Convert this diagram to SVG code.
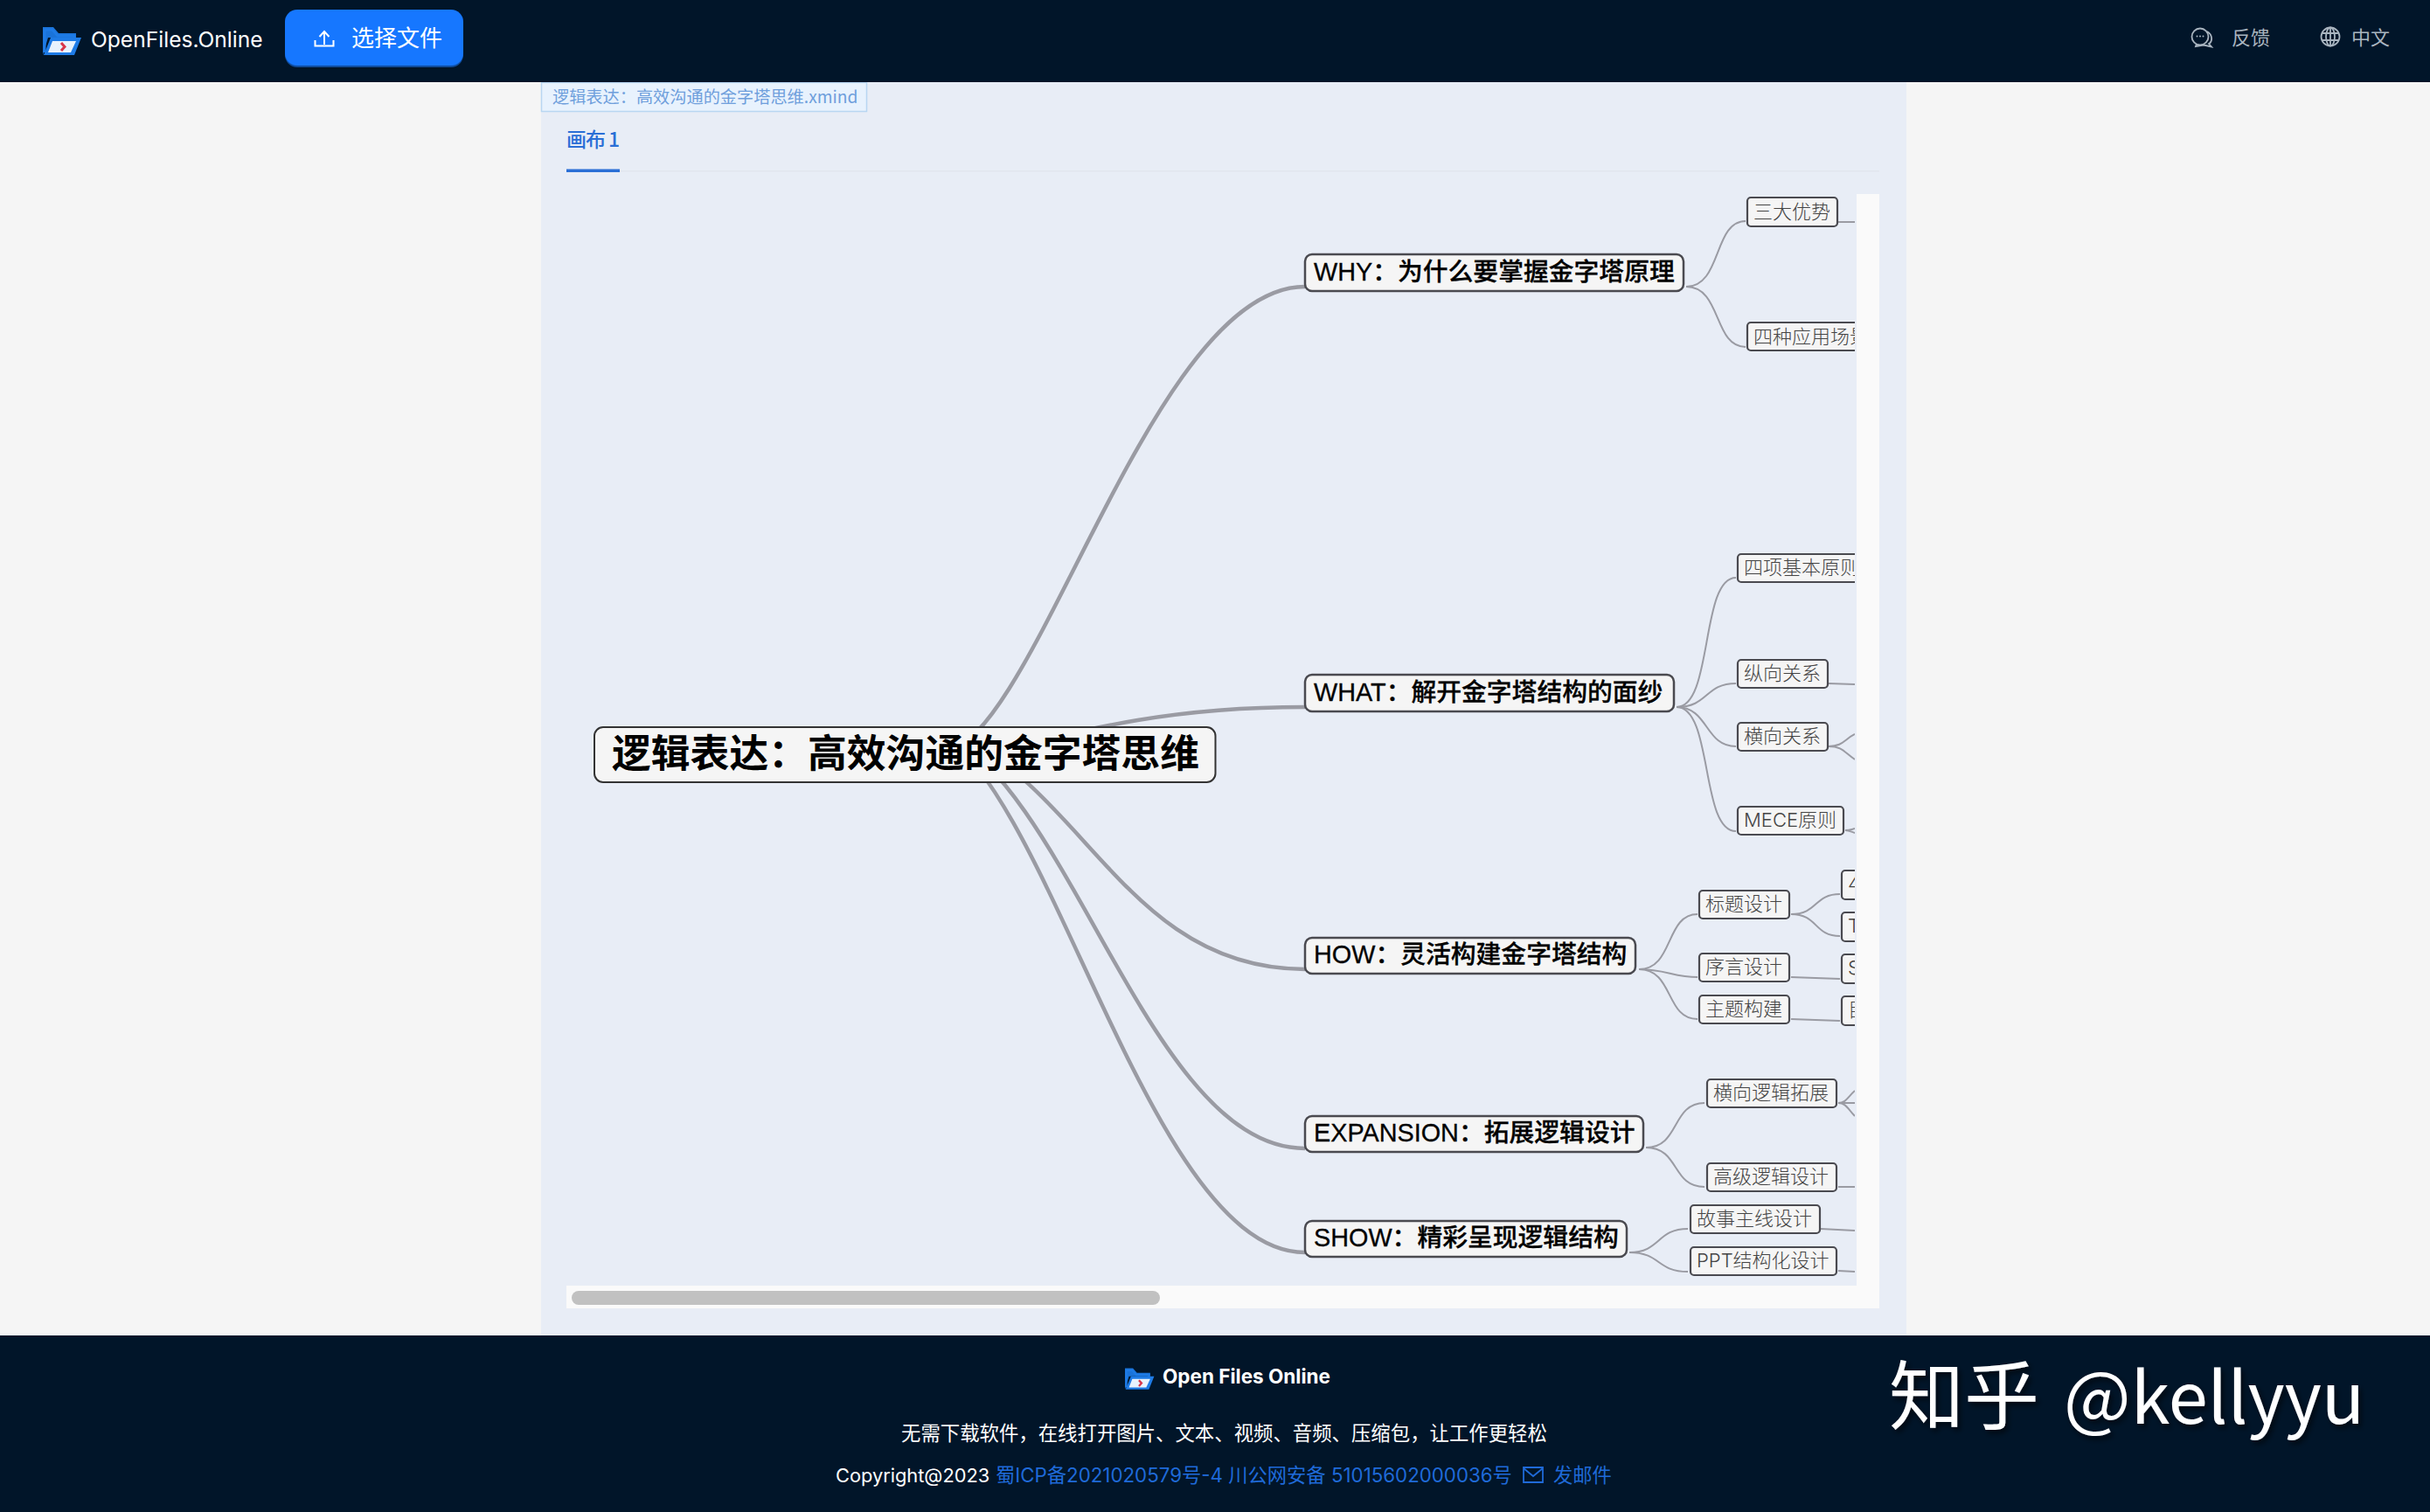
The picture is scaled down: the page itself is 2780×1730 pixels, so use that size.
<svg xmlns="http://www.w3.org/2000/svg" width="2780" height="1730" viewBox="0 0 2780 1730">
<style>
text{font-family:"Noto Sans CJK SC","Inter","Liberation Sans",sans-serif}
.lat{font-family:"Inter","Noto Sans CJK SC",sans-serif}
.n0 rect{fill:#f5f5f5;stroke:#333;stroke-width:2}
.n0 text{font-size:44.800px;font-weight:700;fill:#000}
.n1 rect{fill:#f5f5f5;stroke:#4a4a50;stroke-width:2.5}
.n1 text{font-size:28.800px;font-weight:500;fill:#000;stroke:#000;stroke-width:.3;font-family:"Liberation Sans","Noto Sans CJK SC",sans-serif}
.n2 rect{fill:#f5f5f5;stroke:#4a4a50;stroke-width:2.2}
.n2 text{font-size:22px;font-weight:300;fill:#444;font-family:"Inter","Noto Sans CJK SC",sans-serif}
.c1{fill:none;stroke:#9a9ba3;stroke-width:4.5}
.c2{fill:none;stroke:#9a9ba3;stroke-width:2}
.nav{font-size:22px;fill:#a9b4bf}
.foot{font-size:22.4px;fill:#fff}
.link{font-size:22.3px;fill:#1f6ad8}
.ic{fill:none;stroke:#a9b4bf;stroke-width:1.8}
</style>
<defs>
<clipPath id="view"><rect x="648" y="222" width="1474" height="1249"/></clipPath>
<filter id="sh" x="-10%" y="-10%" width="120%" height="120%"><feDropShadow dx="3" dy="4" stdDeviation="3" flood-color="#000" flood-opacity="0.6"/></filter>
<g id="folder">
<path d="M0 34V2H12L18 9H38V14H6L0 34Z" fill="#1a73d9"/>
<path d="M2 31V5H11L17 12H36V15" fill="none" stroke="#1e7be6" stroke-width="3"/>
<path d="M9 14H44L36 34H1Z" fill="#1e7be6"/>
<path d="M11 18H38L32 31H6Z" fill="#e8f2fd"/>
<path d="M21 20L25 24.500L21 29" fill="none" stroke="#d8364a" stroke-width="3"/>
</g>
</defs>
<rect id="page" width="2780" height="1730" fill="#f5f5f5"/>
<g id="panel">
<rect x="619" y="94" width="1562" height="1434" fill="#e8edf6"/>
<rect x="619.500" y="94.500" width="372" height="33" fill="#e8f2fd" stroke="#b8d6f2" stroke-width="1.500"/>
<text x="632" y="118" font-size="19.200" fill="#6f9fdc">逻辑表达：高效沟通的金字塔思维.xmind</text>
<text x="648" y="168" font-size="23" fill="#2a6fd6" font-weight="500" textLength="61">画布 1</text>
<rect x="648" y="195" width="1502" height="1.500" fill="#e2e6ee"/>
<rect x="648" y="193.500" width="61" height="3.500" fill="#2a6fd6"/>
<path d="M2124 222H2150V1497H648V1471H2124Z" fill="#fafafa"/>
<rect x="654" y="1477" width="673" height="16" rx="8" fill="#c1c1c1"/>
</g>
<g id="connectors" clip-path="url(#view)">
<path class="c1" d="M1085 860C1190 830 1320 328 1493 328"/>
<path class="c1" d="M1100 870C1240 835 1330 809 1493 809"/>
<path class="c1" d="M1090 840C1240 900 1290 1109 1493 1109"/>
<path class="c1" d="M1085 840C1230 920 1320 1314 1493 1314"/>
<path class="c1" d="M1080 840C1210 930 1320 1433 1493 1433"/>
<path class="c2" d="M1929 328C1970 328 1960 253 1997 253"/>
<path class="c2" d="M1929 328C1970 328 1960 397 1997 397"/>
<path class="c2" d="M2102 254L2122 254"/>
<path class="c2" d="M1918 809C1960 809 1945 661 1986 661"/>
<path class="c2" d="M1918 809C1955 809 1950 782 1986 782"/>
<path class="c2" d="M1918 809C1955 809 1950 854 1986 854"/>
<path class="c2" d="M1918 809C1960 809 1945 951 1986 951"/>
<path class="c2" d="M2092 782L2122 783"/>
<path class="c2" d="M2092 854C2108 854 2110 846 2122 840"/>
<path class="c2" d="M2092 854C2108 854 2110 861 2122 869"/>
<path class="c2" d="M2111 950C2116 950 2118 949 2122 948"/>
<path class="c2" d="M2111 950C2116 950 2118 952 2122 953"/>
<path class="c2" d="M1875 1109C1915 1109 1905 1046 1942 1046"/>
<path class="c2" d="M1875 1109C1905 1109 1915 1118 1942 1118"/>
<path class="c2" d="M1875 1109C1915 1109 1905 1166 1942 1166"/>
<path class="c2" d="M2049 1046C2080 1046 2075 1023 2105 1023"/>
<path class="c2" d="M2049 1046C2080 1046 2075 1071 2105 1071"/>
<path class="c2" d="M2049 1118L2105 1120"/>
<path class="c2" d="M2049 1166L2105 1168"/>
<path class="c2" d="M1883 1313C1922 1313 1912 1262 1950 1262"/>
<path class="c2" d="M1883 1313C1922 1313 1912 1358 1950 1358"/>
<path class="c2" d="M2103 1262C2112 1262 2114 1255 2122 1248"/>
<path class="c2" d="M2103 1262L2122 1262"/>
<path class="c2" d="M2103 1262C2112 1262 2114 1269 2122 1277"/>
<path class="c2" d="M2103 1358L2122 1358"/>
<path class="c2" d="M1864 1433C1900 1433 1895 1406 1931 1406"/>
<path class="c2" d="M1864 1433C1900 1433 1895 1455 1931 1455"/>
<path class="c2" d="M2083 1406L2122 1408"/>
<path class="c2" d="M2103 1454L2122 1455"/>
</g>
<g id="topics" clip-path="url(#view)">
<g id="root" class="n0"><rect x="680" y="832" width="710.500" height="63" rx="10"/><text x="700" y="878">逻辑表达：高效沟通的金字塔思维</text></g>
<g id="why" class="n1"><rect x="1493" y="291" width="433" height="42" rx="8"/><text x="1503" y="321">WHY：为什么要掌握金字塔原理</text></g>
<g id="what" class="n1"><rect x="1493" y="772" width="422" height="42" rx="8"/><text x="1503" y="802">WHAT：解开金字塔结构的面纱</text></g>
<g id="how" class="n1"><rect x="1493" y="1073" width="378" height="41" rx="8"/><text x="1503" y="1102">HOW：灵活构建金字塔结构</text></g>
<g id="expansion" class="n1"><rect x="1493" y="1277" width="387" height="41" rx="8"/><text x="1503" y="1306">EXPANSION：拓展逻辑设计</text></g>
<g id="show" class="n1"><rect x="1493" y="1397" width="368" height="41" rx="8"/><text x="1503" y="1426">SHOW：精彩呈现逻辑结构</text></g>
<g id="t1" class="n2"><rect x="1999" y="226" width="103" height="33" rx="4"/><text x="2006" y="249.500">三大优势</text></g>
<g id="t2" class="n2"><rect x="1999" y="369" width="160" height="32" rx="4"/><text x="2006" y="393">四种应用场景</text></g>
<g id="t3" class="n2"><rect x="1988" y="634" width="160" height="32" rx="4"/><text x="1995" y="657">四项基本原则</text></g>
<g id="t4" class="n2"><rect x="1988" y="755" width="103" height="32" rx="4"/><text x="1995" y="778">纵向关系</text></g>
<g id="t5" class="n2"><rect x="1988" y="827" width="103" height="32" rx="4"/><text x="1995" y="849.500">横向关系</text></g>
<g id="t6" class="n2"><rect x="1988" y="923" width="121" height="32" rx="4"/><text x="1995" y="945.500">MECE原则</text></g>
<g id="t7" class="n2"><rect x="1944" y="1019" width="103" height="32" rx="4"/><text x="1951" y="1042">标题设计</text></g>
<g id="t8" class="n2"><rect x="1944" y="1091" width="103" height="32" rx="4"/><text x="1951" y="1114">序言设计</text></g>
<g id="t9" class="n2"><rect x="1944" y="1139" width="103" height="32" rx="4"/><text x="1951" y="1162">主题构建</text></g>
<g id="t10" class="n2"><rect x="2107" y="996" width="60" height="33" rx="4"/><text x="2114" y="1019">4</text></g>
<g id="t11" class="n2"><rect x="2107" y="1044" width="60" height="33" rx="4"/><text x="2114" y="1067">T</text></g>
<g id="t12" class="n2"><rect x="2107" y="1092" width="60" height="33" rx="4"/><text x="2114" y="1115">S</text></g>
<g id="t13" class="n2"><rect x="2107" y="1140" width="60" height="33" rx="4"/><text x="2114" y="1163">目</text></g>
<g id="t14" class="n2"><rect x="1953" y="1235" width="148" height="32" rx="4"/><text x="1960" y="1258">横向逻辑拓展</text></g>
<g id="t15" class="n2"><rect x="1953" y="1331" width="148" height="32" rx="4"/><text x="1960" y="1354">高级逻辑设计</text></g>
<g id="t16" class="n2"><rect x="1934" y="1379" width="148" height="32" rx="4"/><text x="1941" y="1402">故事主线设计</text></g>
<g id="t17" class="n2"><rect x="1934" y="1427" width="167" height="32" rx="4"/><text x="1941" y="1450">PPT结构化设计</text></g>
</g>
<g id="header">
<rect width="2780" height="94" fill="#011529"/>
<use href="#folder" x="49" y="29"/>
<text class="lat" x="104" y="54" font-size="24.600" fill="#fff">OpenFiles.Online</text>
<rect x="326" y="13" width="204" height="64" rx="14" fill="#0f4c9c"/>
<rect x="326" y="11" width="204" height="64" rx="14" fill="#1677ff"/>
<path d="M371 37V51M365.500 42L371 36L376.500 42M360.500 46V52.500H381.500V46" fill="none" stroke="#fff" stroke-width="2"/>
<text x="402" y="53" font-size="26" fill="#fff">选择文件</text>
<g class="ic"><circle cx="2517" cy="42" r="9.500"/><path d="M2525 36C2532 40 2531 48 2527 50L2530 53.500L2521 51.500L2512 53L2513 50"/></g>
<g fill="#a9b4bf"><circle cx="2513.500" cy="41.500" r="1"/><circle cx="2517" cy="41.500" r="1"/><circle cx="2520.500" cy="41.500" r="1"/></g>
<text class="nav" x="2553" y="51">反馈</text>
<g class="ic"><circle cx="2666" cy="42" r="10.500"/><ellipse cx="2666" cy="42" rx="5" ry="10.500"/><path d="M2656 38H2676M2656 46H2676M2666 31.500V52.500"/></g>
<text class="nav" x="2690" y="51">中文</text>
</g>
<g id="footer">
<rect y="1528" width="2780" height="202" fill="#011529"/>
<use href="#folder" transform="translate(1287 1564) scale(.76)"/>
<text class="lat" x="1330" y="1583" font-size="22.500" font-weight="700" fill="#fff">Open Files Online</text>
<text class="foot" x="1031" y="1648">无需下载软件，在线打开图片、文本、视频、音频、压缩包，让工作更轻松</text>
<text class="lat" x="956" y="1696" font-size="21.800" fill="#fff">Copyright@2023</text>
<text class="link lat" x="1139" y="1696">蜀ICP备2021020579号-4 川公网安备 51015602000036号</text>
<path d="M1743 1679H1765V1696H1743ZM1743 1680L1754 1689L1765 1680" fill="none" stroke="#1f6ad8" stroke-width="1.800"/>
<text class="link" x="1777" y="1696">发邮件</text>
</g>
<g id="watermark" filter="url(#sh)">
<text y="1629" fill="#fff"><tspan x="2161" font-size="86">知乎</tspan><tspan x="2361" font-size="81">@kellyyu</tspan></text>
</g>
</svg>
